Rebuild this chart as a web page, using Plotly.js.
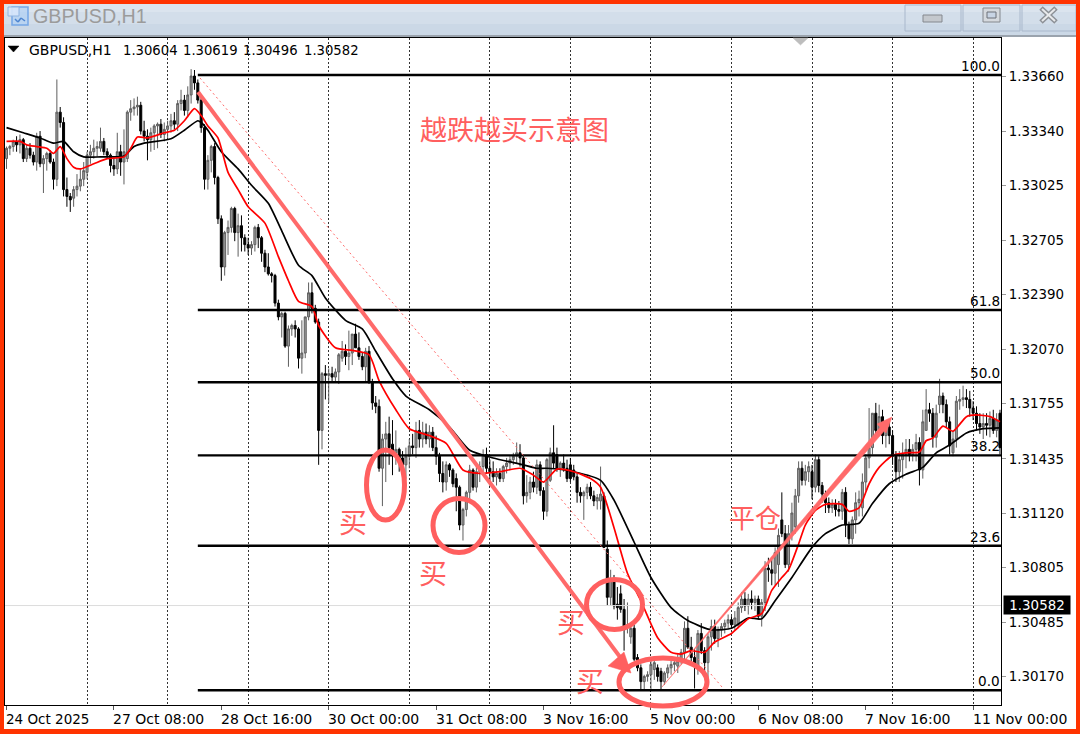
<!DOCTYPE html>
<html><head><meta charset="utf-8">
<script src="https://cdn.plot.ly/plotly-3.0.1.min.js"></script>
<style>html,body{margin:0;padding:0;background:#fff;overflow:hidden}#c{width:1080px;height:734px}</style>
</head><body><div id="c"></div>
<script>
// Prices, written in pips above 1.3000 (H1 bars, one per hour of trading)
const opens=[318,324,325,328,326,329,318,324,320,316,
331,315,318,321,316,306,345,339,300,296,
295,300,302,306,310,320,322,324,324,328,
322,320,314,312,322,316,318,345,347,348,
349,334,331,329,333,337,338,332,335,337,
340,338,350,352,346,355,366,362,352,336,
306,317,325,307,283,255,275,278,289,275,
279,272,268,266,268,278,272,263,255,251,
250,234,226,228,209,219,221,219,202,205,
226,240,231,223,160,193,192,193,191,194,
202,206,203,205,216,208,203,197,206,188,
176,174,138,155,158,152,147,149,144,140,
145,151,150,160,155,159,155,159,150,145,
135,130,140,137,132,127,105,114,124,137,
127,136,139,146,138,136,133,135,132,139,
141,143,145,147,144,122,124,130,127,140,
125,113,131,147,146,138,141,138,140,137,
133,124,122,124,127,122,119,119,122,91,
63,72,59,65,56,46,40,45,28,22,
14,17,18,21,22,20,14,19,22,24,
23,26,31,45,34,28,22,42,32,25,
40,46,39,44,46,48,50,47,47,57,
62,58,62,60,62,52,60,80,79,77,
82,108,100,82,100,104,122,138,131,136,
136,127,143,128,123,118,115,117,114,113,
124,105,97,108,118,115,130,144,150,170,
160,168,157,162,157,145,136,143,146,149,
146,149,153,137,160,172,170,156,175,180,
175,165,147,155,177,178,179,178,173,170,
164,162,164,163,167,160,170];
const highs=[325,326,329,331,332,330,326,327,322,333,
334,320,322,323,318,364,348,342,307,298,
302,309,312,316,322,326,329,328,336,330,
324,321,318,333,326,335,346,352,353,354,
351,340,335,336,338,339,341,339,340,344,
345,352,358,355,360,370,369.5,364,354,338,
320,326,327,308,285,276,282,290,290,286,
285,274,272,270,279,280,273,265,263,252,
251,236,229,229,221,222,224,220,224,226,
246,246,233,225,194,198,196,197,196,205,
212,210,218,216,222,217,205,208,209,190,
180,178,158,165,168,166,160,150,148,150,
155,158,165,166,165,164,163,162,157,147,
142,142,141,138,135,128,115,125,140,138,
140,142,149,150,143,142,138,138,140,144,
145,147,153,152,146,134,133,136,143,142,
127,144,150,163,150,142,146,143,144,140,
135,127,125,129,130,125,123,139,124,96,
79,76,69,70,62,60,48,47,30,24,
18,20,28,28,24,22,20,24,26,28,
30,33,49,52,40,33,44,48,34,42,
50,50,46,48,50,53,52,55,60,66,
66,65,67,64,64,62,84,86,85,92,
103,124,105,105,118,126,142,142,140,142,
140,146,145,130,125,121,120,120,119,126,
127,107,110,124,125,135,146,173,170,176,
175,172,165,165,160,148,148,153,155,155,
152,158,156,172,184,176,173,175,190,182,
178,168,160,180,184,186,184,183,177,174,
170,170,170,171,172,170,172];
const lows=[312,320,322,322,321,316,316,318,314,311,
313,298,311,315,300,302,336,296,290,287,
290,296,299,302,306,315,318,319,322,320,
318,310,308,309,308,303,316,340,343,343,
332,328,317,322,323,324,330,328,330,333,
335,334,346,343,342,350,358,350,333,300,
300,310,303,280,247,250,262,275,270,261,
264,264,262,262,264,266,258,252,250,246,
232,224,214,208,197,215,214,196,193,202,
224,228,222,140,149,178,176,188,188,187,
200,198,195,198,208,201,195,188,187,172,
170,136,116,130,140,134,140,136,135,132,
138,146,144,150,150,152,150,148,140,130,
124,125,133,127,113,102,96,110,120,125,
124,130,134,135,128,130,128,130,130,135,
137,140,141,139,117,118,120,124,123,122,
108,110,130,138,136,133,136,130,130,131,
118,118,108,120,120,116,114,114,92,58,
58,56,50,54,32,42,36,26,20,9,
9,14,9,15,14,9,12,16,18,20,
19,24,27,33,24,10,18,30,19,15,
32,36,34,40,42,45,45,44,45,54,
55,53,56,55,50,46,55,72,70,70,
69,98,80,78,96,100,118,128,128,130,
120,124,124,118,112,112,112,110,110,108,
98,94,94,100,110,110,125,138,146,155,
158,152,150,152,140,130,130,132,138,142,
142,142,128,132,160,165,150,150,170,170,
162,146,145,150,172,174,173,168,166,160,
158,155,157,156,158,156,146];
const closes=[324,325,328,326,329,318,324,320,316,331,
315,318,321,316,306,345,339,300,296,294,
300,302,306,311,320,322,324,325,328,322,
320,314,312,322,316,322,345,347,348,349,
334,331,329,333,337,338,332,335,337,340,
338,350,352,346,355,366,362,352,336,306,
317,325,307,283,255,275,278,289,275,279,
272,268,266,268,278,272,263,255,251,250,
234,226,228,209,219,221,219,202,205,226,
240,231,223,160,193,192,193,191,194,204,
206,203,205,216,208,203,197,206,188,176,
174,138,155,158,150,147,149,144,140,145,
151,150,160,155,159,155,159,150,145,135,
130,140,137,129,127,105,114,124,137,127,
136,139,146,138,136,133,135,132,139,141,
143,145,147,144,122,124,130,127,140,125,
113,143,147,141,138,141,138,132,132,133,
124,122,124,127,122,119,121,123,92,63,
73,58,57,56,46,47,45,27,22,14,
17,18,24,25,17,14,19,22,24,25,
26,31,45,34,28,23,42,32,25,40,
46,39,44,46,48,50,47,51,57,62,
58,62,60,62,52,60,80,79,77,89,
99,100,82,100,112,122,138,131,136,139,
127,143,128,123,118,115,117,114,113,124,
105,97,108,118,120,130,144,150,170,160,
168,157,162,157,145,136,143,146,149,146,
149,153,137,165,172,170,156,170,180,175,
165,151,155,177,178,179,178,173,170,164,
162,164,163,167,160,166,150];

const maFastBars=[0,4,6,9,12,14,16,18,20,22,26,30,35,37,39,42,47,50,53,56,58,60,63,66,69,72,77,81,84,87,91,93,98,103,108,111,116,120,126,131,136,141,147,153,157,160,164,169,174,177,181,185,189,194,198,201,204,208,211,216,221,225,228,231,233,236,238,241,244,249,251,254,257,260,264,268,272,274,276,279,282,286,289,293,296];
const maFast=[328,328,326,325,324,321,325,318,313,312,315,318,319,324,330.5,330,333,334.5,340,347,343,337,330,310,300,290,280.5,261,247,235,232,221,208,206.5,204,189,172,161,157,152.5,137,135,136,138,134,130,137.5,136,132,127,103.5,77,61,39.5,31,30,32,31,37,42,50.5,53.5,67,74.5,79,94,105,113.5,117,117,113,115,129,138.5,145.5,147,147.5,154,155.5,162.5,159.5,168,169,168,165];
const maSlowBars=[0,5,10,14,17,20,23,28,35,38,41,49,53,57,58,60,64,69,73,78,82,87,91,95,101,106,110,115,119,126,132,138,145,154,158,161,169,177,181,187,192,198,203,209,211,216,221,225,229,234,240,244,249,254,258,263,268,273,277,281,286,291,296];
const maSlow=[336,333,330,327,328,322,319,319,319.5,325,327,329.5,334.5,340,339,334.5,322,312,302.5,292,276,256,250,237,224,219,206,190,180,172,162,148.5,144,140,138,138,136,131,119.5,95,74.5,57,49.5,44.5,44,45,51,50.5,61,74.5,92,100,105,106,117.5,129,134.5,138.5,147,151.5,158.5,161,161.5];

const fibLevels=[366.6,230,188,145.5,93,9];
const fibLabels=["100.0","61.8","50.0","38.2","23.6","0.0"];
const currentPrice=1.30582;
const headerValues=["1.30604","1.30619","1.30496","1.30582"];
const priceTicks=[1.3366,1.3334,1.33025,1.32705,1.3239,1.3207,1.31755,1.31435,1.3112,1.30805,1.30485,1.3017];
const gridBars=[24,48,72,96,120,144,168,192,216,240,264,288];
const timeBars=[0,32,64,96,128,160,192,224,256,288];
const timeLabels=["24 Oct 2025","27 Oct 08:00","28 Oct 16:00","30 Oct 00:00","31 Oct 08:00","3 Nov 16:00","5 Nov 00:00","6 Nov 08:00","7 Nov 16:00","11 Nov 00:00"];

const price=v=>1.3+v/10000;
const bars=opens.map((_,i)=>i);
const L=5,R=1001,T=38,B=705;
const X=p=>(p-L)/(R-L), Y=p=>(B-p)/(B-T);
const UI='"DejaVu Sans",sans-serif', CJK='"Noto Sans CJK SC",sans-serif';
const PEN='#ff5f5f';

const traces=[
 {type:'scatter',mode:'lines',x:[-0.45,296.3],y:[currentPrice,currentPrice],line:{color:'#dcdcdc',width:1},hoverinfo:'skip'},
 {type:'candlestick',x:bars,open:opens.map(price),high:highs.map(price),low:lows.map(price),close:closes.map(price),
  whiskerwidth:0,hoverinfo:'skip',
  increasing:{line:{color:'#5e5e5e',width:1},fillcolor:'#9a9a9a'},
  decreasing:{line:{color:'#000',width:1},fillcolor:'#000'}},
 {type:'scatter',mode:'lines',x:maSlowBars,y:maSlow.map(price),line:{color:'#000',width:1.7,shape:'spline',smoothing:0.6},hoverinfo:'skip'},
 {type:'scatter',mode:'lines',x:maFastBars,y:maFast.map(price),line:{color:'#f00',width:1.7,shape:'spline',smoothing:0.6},hoverinfo:'skip'}
];
fibLevels.forEach(v=>traces.push({type:'scatter',mode:'lines',x:[57,296.3],y:[price(v),price(v)],line:{color:'#000',width:2.4},hoverinfo:'skip'}));

const rect=(x0,y0,x1,y1,fill,line,w)=>({type:'rect',xref:'paper',yref:'paper',x0:X(x0),x1:X(x1),y0:Y(y0),y1:Y(y1),fillcolor:fill,line:{color:line||fill,width:w||0},layer:'above'});
const seg=(x0,y0,x1,y1,color,w,dash)=>({type:'line',xref:'paper',yref:'paper',x0:X(x0),x1:X(x1),y0:Y(y0),y1:Y(y1),line:{color,width:w,dash:dash||'solid'},layer:'above'});
const ell=(cx,cy,rx,ry)=>({type:'circle',xref:'paper',yref:'paper',x0:X(cx-rx),x1:X(cx+rx),y0:Y(cy+ry),y1:Y(cy-ry),line:{color:PEN,width:5},fillcolor:'rgba(0,0,0,0)',layer:'above'});
const poly=(pts,fill)=>({type:'path',xref:'paper',yref:'paper',path:'M'+pts.map(p=>X(p[0])+','+Y(p[1])).join('L')+'Z',fillcolor:fill,line:{color:fill,width:0.5},layer:'above'});

const shapes=[
 // window chrome
 rect(4,4,1076,12,'#dbe4ee'),rect(4,12,1076,24,'#d3deea'),rect(4,24,1076,35,'#cbd8e6'),
 rect(4,35,1076,37,'#9aa3ad'),
 rect(905,5,961,31,'rgba(0,0,0,0)','#a9b8cc',1),rect(963,5,1020,31,'rgba(0,0,0,0)','#a9b8cc',1),rect(1022,5,1076,31,'rgba(0,0,0,0)','#a9b8cc',1),
 rect(923,15,942,22,'#c4c8cd','#84888e',1),rect(983,8,1000,22,'#d5d9de','#84888e',1),rect(987,12,996,18,'#c8d4e4','#6c7078',1),
 seg(1041,8,1056,22,'#8c9096',5),seg(1056,8,1041,22,'#8c9096',5),seg(1042,9,1055,21,'#e8eaec',2),seg(1055,9,1042,21,'#e8eaec',2),
 rect(12,7,28,25,'rgba(170,205,245,0.6)','#76a7e6',1.5),rect(8,7,19,16,'rgba(215,230,250,0.9)','#90b4e0',1),
 seg(15,19,18,22,'#4f86d0',1.5),seg(18,22,21,18,'#4f86d0',1.5),seg(21,18,25,21,'#4f86d0',1.5),
 // red border
 rect(0,0,1080,4,'#ff3300'),rect(0,729,1080,734,'#ff3300'),rect(0,0,4,734,'#ff3300'),rect(1076,0,1080,734,'#ff3300'),
 // chart markers
 poly([[8,46],[19,46],[13.5,52]],'#000'),
 poly([[793,38],[808,38],[800.5,45]],'#bdbdbd'),
 // hand-drawn notes
 seg(200,78,722,687,'#ff6868',1,'2px,3px'),
 seg(198,92,626,665,'#ff6a6a',4),
 poly([[631,673],[624,652],[608,666]],PEN),
 poly([[662,687],[886,429],[882,425]],'#ff6a6a'),
 poly([[892,417],[877,424],[886,433]],'#ff6a6a'),
 ell(385.5,485,19,35),ell(459,525.5,26,27),ell(614.5,604.5,28,25),ell(663,682,44,24)
];

const note=(text,x,y,size,color,font,anchor)=>({text,xref:'paper',yref:'paper',x:X(x),y:Y(y),xanchor:anchor||'left',yanchor:'middle',showarrow:false,align:'left',font:{family:font||UI,size,color}});
const annotations=[
 note('GBPUSD,H1',31,15.5,19.7,'#9b9b9b','"Liberation Sans",sans-serif'),
 note('GBPUSD,H1',26.5,50,14,'#000'),
 note('越跌越买示意图',514,129,27,PEN,CJK,'center'),
 note('买',353,521,28,PEN,CJK,'center'),
 note('买',433,572,28,PEN,CJK,'center'),
 note('买',571,621,28,PEN,CJK,'center'),
 note('买',590,680,28,PEN,CJK,'center'),
 note('平仓',755,516,26,PEN,CJK,'center')
];
const headerX=[120.5,181,241,302];
headerValues.forEach((t,i)=>annotations.push(note(t,headerX[i],50,13.2,'#000')));
const fibLabelY=[66,301,373,446,537,681];
fibLabels.forEach((t,i)=>annotations.push(note(t,1002,fibLabelY[i],13.6,'#000',UI,'right')));
timeLabels.forEach((t,i)=>annotations.push({text:t,xref:'x',yref:'paper',x:timeBars[i],y:Y(719),xanchor:'left',yanchor:'middle',xshift:i?-2.5:-3,showarrow:false,font:{family:UI,size:i?14:13.5,color:'#000'}}));
annotations.push({text:'1.30582',xref:'paper',yref:'paper',x:X(1036.5),y:Y(605),xanchor:'center',yanchor:'middle',showarrow:false,font:{family:UI,size:13.4,color:'#fff'},bgcolor:'#000',width:66,height:18,borderpad:0});

const layout={
 width:1080,height:734,margin:{l:L,r:1080-R,t:T,b:734-B,pad:0},autosize:false,
 paper_bgcolor:'#fff',plot_bgcolor:'#fff',showlegend:false,hovermode:false,boxgap:0.15,
 xaxis:{type:'linear',range:[-0.45,296.3],rangeslider:{visible:false},showgrid:false,zeroline:false,
  showline:true,linecolor:'#000',linewidth:1,mirror:true,
  tickmode:'array',tickvals:timeBars,ticktext:timeLabels,showticklabels:false,ticks:'outside',ticklen:4,tickcolor:'#555',
  minor:{tickmode:'array',tickvals:gridBars,showgrid:true,griddash:'2px,2px',gridcolor:'#333',gridwidth:1,ticklen:0}},
 yaxis:{side:'right',range:[1.30004,1.33881],showgrid:false,zeroline:false,
  showline:true,linecolor:'#000',linewidth:1,mirror:true,
  tickmode:'array',tickvals:priceTicks,tickformat:'.5f',ticks:'outside',ticklen:4,tickcolor:'#999',
  tickfont:{family:UI,size:13.4,color:'#000'}},
 shapes,annotations
};
Plotly.newPlot('c',traces,layout,{staticPlot:true,displayModeBar:false});
</script></body></html>
